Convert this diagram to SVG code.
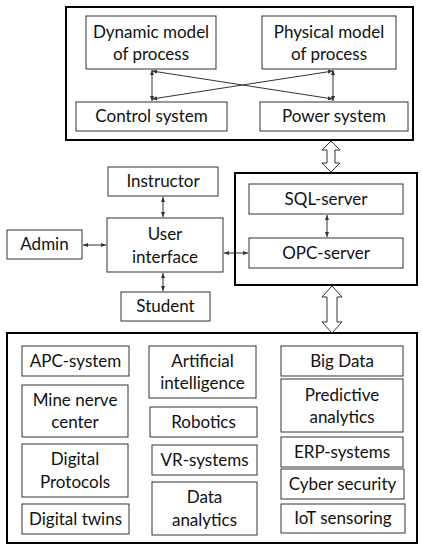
<svg xmlns="http://www.w3.org/2000/svg" width="423" height="550" viewBox="0 0 423 550">
<defs>
<style>
.outer{fill:#fff;stroke:#000;stroke-width:2}
.box{fill:#fff;stroke:#333;stroke-width:1}
.t{font-family:Lato,"Open Sans","Liberation Sans",sans-serif;font-size:17px;fill:#111;text-anchor:middle}
.c{fill:none;stroke:#333;stroke-width:1}
.h{fill:#fff;stroke:#333;stroke-width:1}
</style>
<marker id="a" viewBox="0 0 10 10" refX="10" refY="5" markerWidth="5" markerHeight="5" orient="auto-start-reverse">
<path d="M0,1 L10,5 L0,9 z" fill="#333"/>
</marker>
</defs>
<rect width="423" height="550" fill="#fff"/>
<rect class="outer" x="66" y="7" width="347" height="133"/>
<rect class="outer" x="235" y="173" width="182" height="112"/>
<rect class="outer" x="7" y="333" width="410" height="210"/>
<g id="n-dynamic"><rect class="box" x="86" y="16" width="130" height="53"/><text class="t" x="151" y="38">Dynamic model</text><text class="t" x="151" y="60">of process</text></g>
<g id="n-physical"><rect class="box" x="262" y="16" width="134" height="53"/><text class="t" x="329" y="38">Physical model</text><text class="t" x="329" y="60">of process</text></g>
<g id="n-control"><rect class="box" x="76" y="102" width="151" height="29"/><text class="t" x="151.5" y="122">Control system</text></g>
<g id="n-power"><rect class="box" x="260" y="102" width="148" height="29"/><text class="t" x="334" y="122">Power system</text></g>
<g id="n-sql"><rect class="box" x="249" y="184" width="154" height="30"/><text class="t" x="326" y="205">SQL-server</text></g>
<g id="n-opc"><rect class="box" x="249" y="238" width="154" height="30"/><text class="t" x="326" y="259">OPC-server</text></g>
<g id="n-instructor"><rect class="box" x="108" y="167" width="110" height="29"/><text class="t" x="163" y="187">Instructor</text></g>
<g id="n-ui"><rect class="box" x="107" y="218" width="116" height="54"/><text class="t" x="165" y="240">User</text><text class="t" x="165" y="263">interface</text></g>
<g id="n-admin"><rect class="box" x="7" y="230" width="75" height="29"/><text class="t" x="44.5" y="250">Admin</text></g>
<g id="n-student"><rect class="box" x="121" y="292" width="89" height="29"/><text class="t" x="165.5" y="312">Student</text></g>
<g id="n-apc"><rect class="box" x="22" y="346" width="107" height="30"/><text class="t" x="75.5" y="367">APC-system</text></g>
<g id="n-mine"><rect class="box" x="22" y="385" width="106" height="52"/><text class="t" x="75" y="406">Mine nerve</text><text class="t" x="75" y="428">center</text></g>
<g id="n-protocols"><rect class="box" x="22" y="444" width="106" height="53"/><text class="t" x="75" y="465">Digital</text><text class="t" x="75" y="488">Protocols</text></g>
<g id="n-twins"><rect class="box" x="22" y="504" width="107" height="30"/><text class="t" x="75.5" y="525">Digital twins</text></g>
<g id="n-ai"><rect class="box" x="149" y="346" width="107" height="52"/><text class="t" x="202.5" y="367">Artificial</text><text class="t" x="202.5" y="389">intelligence</text></g>
<g id="n-robotics"><rect class="box" x="150" y="407" width="107" height="30"/><text class="t" x="203.5" y="428">Robotics</text></g>
<g id="n-vr"><rect class="box" x="152" y="445" width="105" height="30"/><text class="t" x="204.5" y="466">VR-systems</text></g>
<g id="n-data"><rect class="box" x="152" y="482" width="105" height="53"/><text class="t" x="204.5" y="503">Data</text><text class="t" x="204.5" y="526">analytics</text></g>
<g id="n-bigdata"><rect class="box" x="281" y="346" width="122" height="30"/><text class="t" x="342" y="367">Big Data</text></g>
<g id="n-predictive"><rect class="box" x="281" y="379" width="122" height="53"/><text class="t" x="342" y="401">Predictive</text><text class="t" x="342" y="423">analytics</text></g>
<g id="n-erp"><rect class="box" x="281" y="437" width="122" height="30"/><text class="t" x="342" y="458">ERP-systems</text></g>
<g id="n-cyber"><rect class="box" x="281" y="469" width="123" height="30"/><text class="t" x="342.5" y="490">Cyber security</text></g>
<g id="n-iot"><rect class="box" x="281" y="504" width="124" height="29"/><text class="t" x="343" y="524">IoT sensoring</text></g>
<g id="connectors">
<line class="c" x1="152" y1="70" x2="152" y2="101" marker-start="url(#a)" marker-end="url(#a)"/>
<line class="c" x1="333" y1="70" x2="333" y2="101" marker-start="url(#a)" marker-end="url(#a)"/>
<line class="c" x1="152" y1="71" x2="333" y2="99" marker-start="url(#a)" marker-end="url(#a)"/>
<line class="c" x1="152" y1="99" x2="333" y2="71" marker-start="url(#a)" marker-end="url(#a)"/>
<line class="c" x1="327" y1="215" x2="327" y2="237" marker-start="url(#a)" marker-end="url(#a)"/>
<line class="c" x1="163" y1="197" x2="163" y2="217" marker-start="url(#a)" marker-end="url(#a)"/>
<line class="c" x1="83" y1="245" x2="106" y2="245" marker-start="url(#a)" marker-end="url(#a)"/>
<line class="c" x1="224" y1="253" x2="248" y2="253" marker-start="url(#a)" marker-end="url(#a)"/>
<line class="c" x1="163" y1="273" x2="163" y2="291" marker-start="url(#a)" marker-end="url(#a)"/>
<path class="h" d="M331,141 L340,150 L335,150 L335,163 L340,163 L331,172 L322,163 L327,163 L327,150 L322,150 Z"/>
<path class="h" d="M332,286 L342,297 L337,297 L337,322 L342,322 L332,333 L322,322 L327,322 L327,297 L322,297 Z"/>
</g>
</svg>
